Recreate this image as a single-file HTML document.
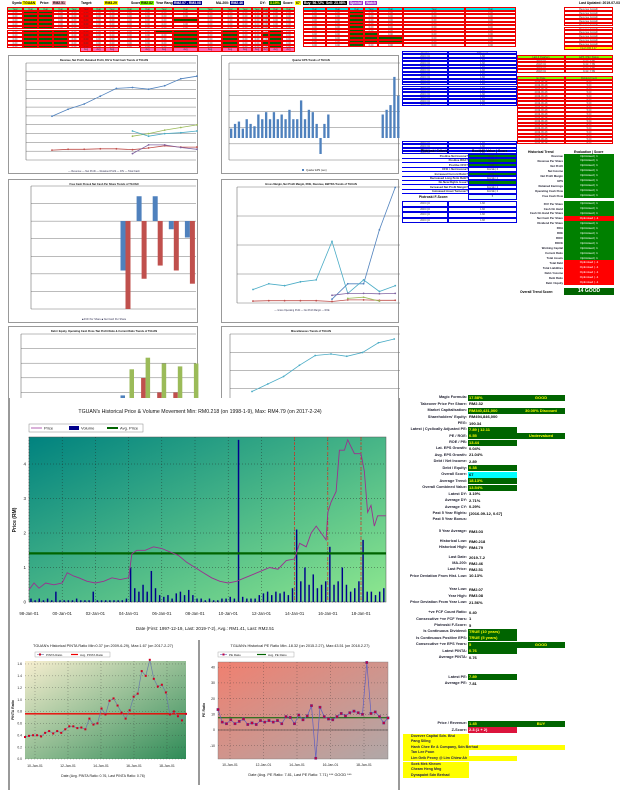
<!DOCTYPE html>
<html><head><meta charset="utf-8">
<style>
*{margin:0;padding:0;box-sizing:border-box}
body{width:627px;height:790px;background:#fff;position:relative;overflow:hidden;font-family:"Liberation Sans",sans-serif;font-size:4px;color:#000}
.a{position:absolute}
.box{position:absolute;border:1px solid #999;background:#fff}
.cell{position:absolute;border:0.6px solid #e00;font-size:2.5px;text-align:center;overflow:hidden;color:#333}
.lbl{position:absolute;text-align:right;font-weight:bold;font-size:3.8px;color:#223;white-space:nowrap}
.val{position:absolute;font-size:4px;white-space:nowrap;color:#000;font-weight:bold}
svg text{font-family:"Liberation Sans",sans-serif}
</style></head>
<body>
<div id="topArea"></div>

<div class="box" style="left:8px;top:55px;width:190px;height:119px"><svg id="c1" width="190" height="119"></svg></div>
<div class="box" style="left:221px;top:55px;width:178px;height:119px"><svg id="c2" width="178" height="119"></svg></div>
<div class="box" style="left:8px;top:179px;width:190px;height:144px"><svg id="c3" width="190" height="144"></svg></div>
<div class="box" style="left:221px;top:179px;width:178px;height:144px"><svg id="c4" width="178" height="144"></svg></div>
<div class="box" style="left:8px;top:326px;width:190px;height:80px"><svg id="c5" width="190" height="80"></svg></div>
<div class="box" style="left:221px;top:326px;width:178px;height:80px"><svg id="c6" width="178" height="80"></svg></div>

<div class="a" style="left:8px;top:398px;width:392px;height:392px;background:#fff;border-left:2px solid #999;border-right:2px solid #999"></div>
<svg id="big" class="a" style="left:0;top:398px" width="400" height="242"></svg>
<svg id="pinta" class="a" style="left:8px;top:640px" width="190" height="150"></svg>
<svg id="pe" class="a" style="left:200px;top:640px" width="198" height="150"></svg>
<div class="a" style="left:198px;top:640px;width:2px;height:145px;background:#999"></div>

<div id="right"></div>

<script>
const priceYears=[1998.0,1998.3,1998.6,1999,1999.5,2000,2000.3,2000.7,2001,2001.5,2002,2002.5,2003,2003.5,2004,2004.2,2004.5,2005,2005.5,2006,2006.5,2007,2007.5,2008,2008.5,2009,2009.5,2010,2010.5,2011,2011.5,2012,2012.5,2013,2013.5,2014,2014.3,2014.7,2015,2015.3,2015.6,2015.9,2016,2016.2,2016.5,2016.7,2017,2017.2,2017.6,2018,2018.2,2018.4,2018.6,2018.8,2019,2019.5];
const priceValues=[0.35,0.55,0.4,0.55,0.5,0.55,0.85,0.75,0.7,0.6,0.55,0.6,0.7,0.65,0.7,1.4,1.5,1.5,1.6,1.55,1.45,1.35,1.15,1.0,0.85,0.7,0.6,0.55,0.6,0.7,0.8,0.9,1.0,0.95,1.2,1.25,1.7,1.6,2.0,2.2,2.0,1.8,2.6,2.9,3.2,4.4,4.4,4.7,4.3,4.3,3.8,2.6,2.8,2.2,2.5,2.5];
const volumeValues=[0.1,0.05,0.1,0.05,0.1,0.05,0.3,0.05,0.05,0.05,0.05,0.1,0.05,0.05,0.05,0.3,0.05,0.05,0.05,0.05,0.05,0.05,0.05,0.1,
1.0,0.4,0.3,0.5,0.3,0.9,0.4,0.2,0.15,0.2,0.1,0.25,
0.3,0.2,0.35,0.2,0.1,0.1,0.05,0.1,0.05,0.05,0.1,0.1,0.15,0.1,
4.7,
0.15,0.1,0.1,0.1,0.2,0.25,0.3,0.2,0.3,0.25,0.3,0.2,0.4,
2.1,
0.6,1.0,0.5,0.8,0.4,0.5,0.6,
1.6,
0.5,0.6,1.0,0.5,0.3,0.4,0.6,
1.8,
0.3,0.3,0.2,0.3,0.4];
const priceTicks=[0,1,2,3,4];
const xTickLabels=["98-Jan-01","00-Jan-01","02-Jan-01","04-Jan-01","06-Jan-01","08-Jan-01","10-Jan-01","12-Jan-01","14-Jan-01","16-Jan-01","18-Jan-01"];
const xTickYears=[1998,2000,2002,2004,2006,2008,2010,2012,2014,2016,2018];
const avgPrice=1.41;
const redLineYears=[2014,2016,2018];

const pintaValues=[0.37,0.39,0.4,0.4,0.38,0.44,0.47,0.43,0.47,0.44,0.5,0.55,0.55,0.52,0.53,0.5,0.68,0.58,0.6,0.85,0.75,0.98,1.02,0.9,0.78,0.68,0.82,1.05,1.1,1.48,1.4,1.67,1.35,1.22,1.25,1.12,0.75,0.8,0.72,0.65,0.76];
const pintaTicks=[0,0.2,0.4,0.6,0.8,1.0,1.2,1.4,1.6];
const avgPinta=0.76;
const peValues=[13,5,4,6.5,4,5.5,7,3.5,4.5,3.5,6,5,6,5,6,4,8.5,8,4,9.5,6.5,9,15.5,-18,14.5,8.5,7,6.5,8.5,10.5,9,11,12,11,10,43,10.5,11.5,8.5,4.5,7.7];
const peTicks=[-10,0,10,20,30,40];
const avgPE=7.81;
const smallXLabels=["10-Jan-01","12-Jan-01","14-Jan-01","16-Jan-01","18-Jan-01"];
const smallXYears=[2010,2012,2014,2016,2018];

const revenueVals=[40,48,54,63,72,73,71,75,83,86];
const netProfitVals=[1,2,2,2.5,2.5,1.5,3.5,6,4.5,4.5];
const equityVals=[null,null,null,null,null,17,20,24,27,30];
const divVals=[null,null,null,null,null,-3,7,7,4,2];
const cashVals=[null,null,null,null,null,23,17,20,21,23];
const epsBars=[2,3,3.5,2,4,3,2.5,5,4,5.5,4,5.5,4,5,4,6,4,4,8,4,6,5.5,3,-3.4,3,5,0,0,0,0,0,0,0,0,0,0,0,0,0,5,6,7,13,9];
const fcfBars=[null,null,null,null,null,-3,1.5,1.5,-0.5,-1];
const ncfBars=[null,null,null,null,null,-7,-3.5,-2.7,-3,-3.8];
const marginA=[null,null,null,null,null,1,5,5,19,30];
const marginB=[0.5,0.6,0.6,0.6,0.6,0.4,0.8,0.8,0.7,0.7];
const marginC=[3.5,5,4.5,5.5,6,16,2.5,6,3,4.5];
const deBlue=[null,null,null,null,null,4,1.5,2,1.5,1.5];
const deRed=[null,null,null,null,null,null,10,5,5,2];
const deGreen=[null,null,null,null,null,13,17,15,14,15];
const miscVals=[10,20,30,45,58,60,57,62,75,80];

const NS="http://www.w3.org/2000/svg";
function mk(p,tag,at){const e=document.createElementNS(NS,tag);for(const k in at)e.setAttribute(k,at[k]);p.appendChild(e);return e;}
function txt(p,x,y,s,size,anchor,fill,bold){const t=mk(p,"text",{x:x,y:y,"font-size":size,"text-anchor":anchor||"start",fill:fill||"#222"});if(bold)t.setAttribute("font-weight","bold");t.textContent=s;return t;}

(function(){
 const s=document.getElementById("big");
 const X0=29,X1=386,Y0=204,Y1=39;
 const xs=y=>X0+(y-1998)*16.6;
 const ys=v=>Y0-v*34.5;
 const d=mk(s,"defs",{});
 const lg=mk(d,"linearGradient",{id:"bg",x1:"0",y1:"0",x2:"1",y2:"1"});
 mk(lg,"stop",{offset:"0","stop-color":"#00827f"});
 mk(lg,"stop",{offset:"1","stop-color":"#8fe88f"});
 txt(s,200,15,"TGUAN's Historical Price & Volume Movement    Min: RM0.218 (on 1998-1-9),    Max: RM4.79 (on 2017-2-24)",5.2,"middle","#111");
 const lgBox=mk(s,"rect",{x:29,y:26,width:114,height:8,fill:"#fff",stroke:"#888","stroke-width":0.5});
 
 mk(s,"line",{x1:31,y1:30,x2:42,y2:30,stroke:"#a040a0","stroke-width":0.8});txt(s,44,31.5,"Price",4);
 mk(s,"rect",{x:69,y:28,width:10,height:4,fill:"#00008b"});txt(s,81,31.5,"Volume",4);
 mk(s,"line",{x1:107,y1:30,x2:118,y2:30,stroke:"#006400","stroke-width":2});txt(s,120,31.5,"Avg. Price",4);
 const pa=mk(s,"rect",{x:X0,y:Y1,width:X1-X0,height:Y0-Y1,fill:"url(#bg)",stroke:"#555","stroke-width":0.5});
 
 xTickYears.forEach((yr,i)=>{const x=xs(yr);
  mk(s,"line",{x1:x,y1:Y1,x2:x,y2:Y0,stroke:"#222","stroke-width":0.4,"stroke-dasharray":"1,2"});
  const t=txt(s,x,217,xTickLabels[i],4.3,"middle","#222");
  
 });
 priceTicks.forEach(v=>{const y=ys(v);
  mk(s,"line",{x1:X0,y1:y,x2:X1,y2:y,stroke:"#222","stroke-width":0.4,"stroke-dasharray":"1,2"});
  txt(s,26,y+1.5,String(v),4.5,"end","#222");
 });
 const yt=txt(s,0,0,"Price (RM)",5,"middle","#111",true);yt.setAttribute("transform","translate(16,122) rotate(-90)");
 
 const n=volumeValues.length,bw=(X1-X0)/n;
 volumeValues.forEach((v,i)=>{const h=Math.min(v*34.5,Y0-Y1);
  const r=mk(s,"rect",{x:X0+i*bw+bw*0.3,y:Y0-h,width:Math.max(0.8,bw*0.35),height:h,fill:"#00008b"});
  
 });
 redLineYears.forEach(yr=>{mk(s,"line",{x1:xs(yr),y1:Y1,x2:xs(yr),y2:Y0,stroke:"#e03020","stroke-width":0.7,"stroke-dasharray":"3,2"});});
 const al=mk(s,"line",{x1:X0,y1:ys(avgPrice),x2:X1,y2:ys(avgPrice),stroke:"#006400","stroke-width":2.2});
 
 const pts=priceYears.map((yr,i)=>xs(yr).toFixed(1)+","+ys(priceValues[i]).toFixed(1)).join(" ");
 const pl=mk(s,"polyline",{points:pts,fill:"none",stroke:"#9a3090","stroke-width":0.9});
 
 txt(s,205,232,"Date (First: 1997-12-19, Last: 2019-7-2), Avg.: RM1.41, Last: RM2.51",4.5,"middle","#111");
})();

(function(){
 const s=document.getElementById("pinta");
 const X0=17,X1=178,Y0=119,Y1=21;
 const xs=y=>27+(y-2010)*16.5;
 const ys=v=>Y0-v*59.4;
 const d=mk(s,"defs",{});
 const lg=mk(d,"linearGradient",{id:"pg",x1:"0",y1:"0",x2:"1",y2:"1"});
 mk(lg,"stop",{offset:"0","stop-color":"#f8efd0"});mk(lg,"stop",{offset:"1","stop-color":"#2e8b57"});
 txt(s,95,7,"TGUAN's Historical PINTA Ratio  Min:0.37 (on 2009-6-29),  Max:1.67 (on 2017-2-27)",3.8,"middle","#111");
 mk(s,"rect",{x:27,y:12,width:75,height:5,fill:"#fff",stroke:"#999","stroke-width":0.4});
 mk(s,"line",{x1:29,y1:14.5,x2:36,y2:14.5,stroke:"#6070a0","stroke-width":0.6});mk(s,"rect",{x:31,y:13.5,width:2,height:2,fill:"#d00020"});
 txt(s,38,16,"PINTA Ratio",3);
 mk(s,"line",{x1:63,y1:14.5,x2:70,y2:14.5,stroke:"#e00","stroke-width":1.2});txt(s,72,16,"Avg. PINTA Ratio",3);
 mk(s,"rect",{x:X0,y:Y1,width:X1-X0,height:Y0-Y1,fill:"url(#pg)"});
 pintaTicks.forEach(v=>{const y=ys(v);mk(s,"line",{x1:X0,y1:y,x2:X1,y2:y,stroke:"#333","stroke-width":0.3,"stroke-dasharray":"1,2"});txt(s,14,y+1.2,v.toFixed(1),3.3,"end","#222");});
 smallXYears.forEach((yr,i)=>{const x=xs(yr);mk(s,"line",{x1:x,y1:Y1,x2:x,y2:Y0,stroke:"#333","stroke-width":0.3,"stroke-dasharray":"1,2"});txt(s,x,127,smallXLabels[i],3.5,"middle","#222");});
 const t=txt(s,0,0,"PINTA Ratio",3.5,"middle","#111",true);t.setAttribute("transform","translate(6,70) rotate(-90)");
 const n=pintaValues.length;const st=(X1-X0)/(n-1);
 mk(s,"line",{x1:X0,y1:ys(avgPinta),x2:X1,y2:ys(avgPinta),stroke:"#e00","stroke-width":1.4});
 mk(s,"polyline",{points:pintaValues.map((v,i)=>(X0+i*st).toFixed(1)+","+ys(v).toFixed(1)).join(" "),fill:"none",stroke:"#6a7ca8","stroke-width":0.7});
 pintaValues.forEach((v,i)=>{const r=mk(s,"rect",{x:X0+i*st-1,y:ys(v)-1,width:2,height:2,fill:"#d00020"});});
 txt(s,95,137,"Date (Avg. PINTA Ratio: 0.76,  Last PINTA Ratio: 0.76)",3.5,"middle","#111");
})();

(function(){
 const s=document.getElementById("pe");
 const X0=18,X1=188,Y0=119,Y1=22;
 const ys=v=>90-v*1.57;
 const xs=y=>30+(y-2010)*16.75;
 const d=mk(s,"defs",{});
 const lg=mk(d,"linearGradient",{id:"eg",x1:"0",y1:"0",x2:"1",y2:"1"});
 mk(lg,"stop",{offset:"0","stop-color":"#f08070"});mk(lg,"stop",{offset:"1","stop-color":"#b0a8a8"});
 txt(s,100,7,"TGUAN's Historical PE Ratio   Min:-18.32 (on 2015.2.27),    Max:43.51 (on 2018.2.27)",3.8,"middle","#111");
 mk(s,"rect",{x:18,y:12,width:76,height:5,fill:"#fff",stroke:"#999","stroke-width":0.4});
 mk(s,"line",{x1:20,y1:14.5,x2:27,y2:14.5,stroke:"#6060c0","stroke-width":0.6});mk(s,"rect",{x:22.5,y:13.5,width:2,height:2,fill:"#c00040"});
 txt(s,29,16,"PE Ratio",3);
 mk(s,"line",{x1:57,y1:14.5,x2:66,y2:14.5,stroke:"#006400","stroke-width":1.2});txt(s,68,16,"Avg. PE Ratio",3);
 mk(s,"rect",{x:X0,y:Y1,width:X1-X0,height:Y0-Y1,fill:"url(#eg)",stroke:"#777","stroke-width":0.4});
 peTicks.forEach(v=>{const y=ys(v);mk(s,"line",{x1:X0,y1:y,x2:X1,y2:y,stroke:"#333","stroke-width":0.3,"stroke-dasharray":"1,2"});txt(s,15,y+1.2,String(v),3.5,"end","#222");});
 smallXYears.forEach((yr,i)=>{const x=xs(yr);mk(s,"line",{x1:x,y1:Y1,x2:x,y2:Y0,stroke:"#333","stroke-width":0.3,"stroke-dasharray":"1,2"});txt(s,x,126,smallXLabels[i],3.5,"middle","#222");});
 mk(s,"line",{x1:X0,y1:ys(0),x2:X1,y2:ys(0),stroke:"#333","stroke-width":0.5});
 const t=txt(s,0,0,"PE Ratio",3.5,"middle","#111",true);t.setAttribute("transform","translate(5,70) rotate(-90)");
 mk(s,"line",{x1:X0,y1:ys(avgPE),x2:X1,y2:ys(avgPE),stroke:"#006400","stroke-width":1});
 const n=peValues.length;const st=(X1-X0)/(n-1);
 mk(s,"polyline",{points:peValues.map((v,i)=>(X0+i*st).toFixed(1)+","+Math.min(Y0,Math.max(Y1,ys(v))).toFixed(1)).join(" "),fill:"none",stroke:"#6060c0","stroke-width":0.7});
 peValues.forEach((v,i)=>{const r=mk(s,"rect",{x:X0+i*st-1.2,y:Math.min(Y0,Math.max(Y1,ys(v)))-1.2,width:2.4,height:2.4,fill:"#c00040",stroke:"#4040a0","stroke-width":0.3});});
 txt(s,100,136,"Date (Avg. PE Ratio: 7.81,  Last PE Ratio: 7.71) *** GOOD ***",3.8,"middle","#111");
})();

function smallFrame(s,w,h,title,px0,px1,py0,py1,nGrid){
 txt(s,w/2,5,title,2.6,"middle","#111",true);
 for(let i=0;i<=nGrid;i++){const y=py1+(py0-py1)*i/nGrid;mk(s,"line",{x1:px0,y1:y,x2:px1,y2:y,stroke:"#777","stroke-width":0.5});}
 mk(s,"line",{x1:px0,y1:py1,x2:px0,y2:py0,stroke:"#555","stroke-width":0.5});
}
function drawLine(s,vals,xs,ys,color){const p=[];vals.forEach((v,i)=>{if(v!==null)p.push(xs(i).toFixed(1)+","+ys(v).toFixed(1));});
 mk(s,"polyline",{points:p.join(" "),fill:"none",stroke:color,"stroke-width":0.8});
 vals.forEach((v,i)=>{if(v!==null){mk(s,"circle",{cx:xs(i),cy:ys(v),r:0.9,fill:color});}});}
(function(){const s=document.getElementById("c1");
 smallFrame(s,190,119,"Revenue, Net Profit, Retained Profit, DIV & Total Cash Trends of TGUAN",17,187,104,7,11);
 const xs=i=>43+i*16.1, ys=v=>95-v*0.87;
 drawLine(s,revenueVals,xs,ys,"#4f81bd");
 drawLine(s,netProfitVals,xs,ys,"#c0504d");
 drawLine(s,equityVals,xs,ys,"#9bbb59");
 drawLine(s,divVals,xs,ys,"#8064a2");
 drawLine(s,cashVals,xs,ys,"#4bacc6");
 txt(s,95,116,"— Revenue   — Net Profit   — Retained Profit   — DIV   — Total Cash",2.5,"middle","#335");
})();
(function(){const s=document.getElementById("c2");
 smallFrame(s,178,119,"Quarter EPS Trends of TGUAN",7,178,104,7,6);
 const bw=171/epsBars.length;const ys=v=>82-v*4.7;
 epsBars.forEach((v,i)=>{if(v!==0){const y=Math.min(ys(v),82),h=Math.abs(v*4.7);const r=mk(s,"rect",{x:8+i*bw,y:y,width:bw*0.6,height:h,fill:"#4f81bd"});}});
 mk(s,"rect",{x:80,y:113,width:2,height:2,fill:"#4f81bd"});txt(s,84,115,"Quarter EPS (sen)",2.5);
})();
(function(){const s=document.getElementById("c3");
 smallFrame(s,190,144,"Free Cash Flow & Net Cash Per Share Trends of TGUAN",22,187,129,6,7);
 const xs=i=>30+i*16.1,ys=v=>41-v*16.5;
 fcfBars.forEach((v,i)=>{if(v!==null){mk(s,"rect",{x:xs(i)+1,y:Math.min(ys(v),41),width:5,height:Math.abs(v*16.5),fill:"#4f81bd"});}});
 ncfBars.forEach((v,i)=>{if(v!==null){mk(s,"rect",{x:xs(i)+6,y:Math.min(ys(v),41),width:5,height:Math.min(88,Math.abs(v*16.5)),fill:"#c0504d"});}});
 txt(s,95,140,"■ FCF Per Share   ■ Net Cash Per Share",2.5,"middle","#335");
})();
(function(){const s=document.getElementById("c4");
 smallFrame(s,178,144,"Gross Margin, Net Profit Margin, ROE, Revenue, EBITDA Trends of TGUAN",15,178,123,7,4);
 const xs=i=>31+i*15.8,ys=v=>123-v*3.85;
 drawLine(s,marginA,xs,ys,"#4f81bd");drawLine(s,marginB,xs,ys,"#c0504d");drawLine(s,marginC,xs,ys,"#4bacc6");
 drawLine(s,[null,null,null,null,null,null,1.2,1.5,0.5,null],xs,ys,"#9bbb59");drawLine(s,[null,null,null,null,null,2,2.5,2.5,2.4,2.5],xs,ys,"#8064a2");
 txt(s,80,131,"— Gross Operating Profit   — Net Profit Margin   — ROE",2.3,"middle","#335");
})();
(function(){const s=document.getElementById("c5");
 smallFrame(s,190,80,"Debt / Equity, Operating Cash Flow / Net Profit Ratio & Current Ratio Trends of TGUAN",12,187,80,7,5);
 const xs=i=>30+i*16.1,base=80,k=2.9;
 deBlue.forEach((v,i)=>{if(v!==null)mk(s,"rect",{x:xs(i)+1,y:base-v*k,width:4.5,height:v*k,fill:"#4f81bd"});});
 deRed.forEach((v,i)=>{if(v!==null)mk(s,"rect",{x:xs(i)+5.5,y:base-v*k,width:4.5,height:v*k,fill:"#c0504d"});});
 deGreen.forEach((v,i)=>{if(v!==null)mk(s,"rect",{x:xs(i)+10,y:base-v*k,width:4.5,height:v*k,fill:"#9bbb59"});});
})();
(function(){const s=document.getElementById("c6");
 smallFrame(s,178,80,"Miscellaneous Trends of TGUAN",8,178,80,7,4);
 drawLine(s,miscVals,i=>30+i*15.8,v=>72-v*0.75,"#4bacc6");
})();

function cell(x,y,w,h,bg,txtc,border){const d=document.createElement("div");d.className="cell";d.style.cssText=`left:${x}px;top:${y}px;width:${w}px;height:${h}px;background:${bg};border-color:${border||"#e00"}`;d.textContent=txtc||"";document.body.appendChild(d);return d;}
function lab(x,y,t,bg,fg){const d=document.createElement("div");d.className="a";d.style.cssText=`left:${x}px;top:${y}px;font-size:3.4px;font-weight:bold;background:${bg||"transparent"};color:${fg||"#000"};padding:0 1px`;d.textContent=t;document.body.appendChild(d);return d;}
lab(11,1,"Symbol:");lab(22,0.5,"TGUAN","#ff0");lab(39,1,"Price:");lab(52,0.5,"RM2.51","#f6b0c0");
lab(80,1,"Target:");lab(104,0.5,"RM3.29","#ff0");lab(130,1,"Score:");lab(140,0.5,"RM2.82","#7fff00");lab(155,1,"Year Range:");lab(173,0.5,"RM2.07 - RM3.08","#00008b","#fff");
lab(215,1,"MA-200:");lab(230,0.5,"RM2.46","#00008b","#fff");lab(259,1,"DY:");lab(269,0.5,"3.19%","#006400","#ff0");lab(282,1,"Score:");lab(295,0.5,"67","#ff0");
lab(303,0.5,"Buy: 56.72%","#000","#fff");lab(325,0.5,"Sell: 23.98%","#000","#fff");lab(349,0.5,"Special","#9932cc","#fff");lab(365,0.5,"Watch","#9932cc","#fff");
lab(578,1,"Last Updated: 2019-07-03");
const colsL=[7,23,38,53,68,80,92,105,119,140,155,173,198,222,238,252,262,269,282,295];
const rowY=[7,10.5,14.3,18.1,21.9,25.7,29.5,33.3,37.1,40.9,44.7,48.5];
for(let c=0;c<colsL.length-1;c++){
 for(let r=0;r<rowY.length-1;r++){
  let bg="#fff";
  if(r===0)bg=(c===5)?"#f00":"#66e08a";
  else{
   if(c===1||c===2)bg="#006400";
   if(c===3&&r>=6)bg="#006400";
   if(c===5)bg="#f00";
   if(c===10&&r===6)bg="#006400";
   if(c===11&&(r===3||r>=6))bg="#006400";
   if(c===13&&r>=6)bg="#006400";
   if(c===17&&r>=6)bg="#006400";
   if(c===16&&(r===7||r===9))bg="#006400";
  }
  cell(colsL[c],rowY[r],colsL[c+1]-colsL[c],rowY[r+1]-rowY[r],bg,r>0?"0.00":"Year");
 }
}
[[80,119],[140,295]].forEach(([a,b])=>{for(let i=0;i<colsL.length-1;i++){if(colsL[i]>=a&&colsL[i+1]<=b)cell(colsL[i],47,colsL[i+1]-colsL[i],5,"#ff69b4","Avg");}});
const colsM=[303,326,349,364,378,403,465,516];
for(let c=0;c<colsM.length-1;c++)for(let r=0;r<11;r++){
 let bg=r===0?"#00e0e0":"#fff";if(c===2&&r>0)bg="#006400";if(c===3&&(r===7||r===8||r===9))bg="#006400";if(c===4&&(r===8||r===9))bg="#006400";
 cell(colsM[c],7+r*3.64,colsM[c+1]-colsM[c],3.64,bg,r===0?"Year":"0.00");
}
for(let r=0;r<11;r++)cell(564,7+r*3.9,49,3.9,r===10?"#ff0":"#fff",r===10?"Fluch RM 3.47":"Revenue Growth");

for(let r=0;r<30;r++){
 const y=51+r*3.45;
 if(r>=16&&r<=25)continue;
 cell(402,y,46,3.45,r===0?"#e6e6fa":"#fff",r===0?"Quarter":"2016 Q4","#0000e0");
 cell(448,y,69,3.45,r===0?"#e6e6fa":"#fff",r===0?"EPS (sen)":"1.82","#0000e0");
}
const pio=["Positive Net Income?","Positive ROA?","Positive CFO?","CFO > Net Income?","Increased Current Ratio?","Decreased Long-Term Debt?","No New Rights Issue?","Increased Net Profit Margin?","Increased Asset Turnover?"];
const pioT=[1,1,1,0,1,0,1,0,0];
lab(420,149,"Piotroski Criteria");lab(471,149,"Boolean Value | Score");
pio.forEach((p,i)=>{const y=154+i*4.4;
 const l=document.createElement("div");l.className="lbl";l.style.cssText=`left:402px;top:${y}px;width:66px;font-size:2.8px;border-bottom:0.6px solid #00e`;l.textContent=p;document.body.appendChild(l);
 cell(468,y,49,4.4,(i<3||i===4||i===6)?"#008000":"#fff",(pioT[i]?"TRUE | 1":"FALSE | 0"),"#0000e0");
});
lab(418,195,"Piotroski F-Score:");cell(468,194,49,6,"#e6ffff","5","#0000e0");
for(let r=0;r<4;r++){cell(402,201+r*5.6,46,5.6,"#fff","2016 Q4","#0000e0");cell(448,201+r*5.6,69,5.6,"#fff","1.82","#0000e0");}
for(let r=0;r<5;r++){cell(517,55+r*3.6,48,3.6,r===0?"#7fff00":"#fff",r===0?"Last 4 Quarters":"2018 Q4","#e00");cell(565,55+r*3.6,48,3.6,r===0?"#7fff00":"#fff",r===0?"EPS | PE | Status":"9.41 | 7.89","#e00");}
for(let r=0;r<19;r++){cell(517,76+r*3.6,48,3.6,r===0?"#7fff00":"#fff",r===0?"Ex Date":"2019-06-28","#e00");cell(565,76+r*3.6,48,3.6,r===0?"#7fff00":"#fff",r===0?"Dividend (sen)":"5.00","#e00");}
const trendL=["Revenue","Revenue Per Share","Net Profit","Net Income","Net Profit Margin","EPS","Retained Earnings","Operating Cash Flow","Free Cash Flow","","FCF Per Share","Cash On Hand","Cash On Hand Per Share","Net Cash Per Share","Dividend Per Share","ROA","ROE","ROIC","ROCE","Working Capital","Current Ratio","Total Assets","Total Debt","Total Liabilities","Debt / Income","Debt Ratio","Debt / Equity"];
lab(527,150,"Historical Trend");lab(573,150,"Evaluation | Score");
let ty=154;
trendL.forEach((t,i)=>{
 if(t===""){ty+=3;return;}
 const l=document.createElement("div");l.className="lbl";l.style.cssText=`left:515px;top:${ty}px;width:48px;font-size:2.8px`;l.textContent=t;document.body.appendChild(l);
 const bad=(t==="Net Cash Per Share")||i>=22;
 const c=document.createElement("div");c.className="a";c.style.cssText=`left:564px;top:${ty-0.5}px;width:50px;height:5.1px;background:${bad?"#f00":"#008000"};color:#fff;font-size:3px;text-align:center`;c.textContent=bad?"Optimised | -1":"Optimised | 1";document.body.appendChild(c);
 ty+=4.95;
});
lab(519,290,"Overall Trend Score:");
const ots=document.createElement("div");ots.className="a";ots.style.cssText="left:564px;top:288px;width:50px;height:7px;background:#006400;color:#fff;font-size:5px;font-weight:bold;text-align:center";ots.textContent="14  GOOD";


document.body.appendChild(ots);

const metrics=[
 [395,"Magic Formula:","17.58%","g","GOOD"],
 [401.5,"Takeover Price Per Share:","RM2.32","",""],
 [408,"Market Capitalisation:","RM340,431,000","g","30.00% Discount"],
 [414.5,"Shareholders' Equity:","RM494,846,000","",""],
 [421,"PEG:","190.34","",""],
 [427,"Latest | Cyclically Adjusted PE:","7.89  |  12.11","g",""],
 [433.5,"PE / ROE:","0.55","g","Undervalued"],
 [440,"ROE / PB:","13.44","g",""],
 [446,"Lat. EPS Growth:","0.04%","",""],
 [452.5,"Avg. EPS Growth:","21.04%","",""],
 [459,"Debt / Net Income:","2.89","",""],
 [465.5,"Debt / Equity:","0.38","g",""],
 [472,"Overall Score:","67","c",""],
 [478.5,"Average Trend:","18.13%","g",""],
 [485,"Overall Combined Value:","13.54%","g",""],
 [491.5,"Latest DY:","3.19%","",""],
 [498,"Average DY:","2.71%","",""],
 [504.5,"Average CY:","0.29%","",""],
 [511,"Past 5 Year Rights:","[2016-09-12, 0.67]","",""],
 [516.5,"Past 5 Year Bonus:","","",""],
 [529,"5 Year Average:","RM3.03","",""],
 [539,"Historical Low:","RM0.218","",""],
 [545,"Historical High:","RM4.79","",""],
 [555,"Last Date:","2019-7-2","",""],
 [561,"MA-200:","RM2.46","",""],
 [567,"Last Price:","RM2.51","",""],
 [573.5,"Price Deviation From Hist. Low:","10.13%","",""],
 [587,"Year Low:","RM2.07","",""],
 [593.5,"Year High:","RM3.08","",""],
 [600,"Price Deviation From Year Low:","21.56%","",""],
 [610,"+ve FCF Count Ratio:","0.40","",""],
 [616.5,"Consecutive +ve FCF Years:","1","",""],
 [623,"Piotroski F-Score:","5","",""],
 [629,"Is Continuous Dividend:","TRUE (10 years)","g",""],
 [635.5,"Is Continuous Positive EPS:","TRUE (5 years)","g",""],
 [642,"Consecutive +ve EPS Years:","5","g","GOOD"],
 [648.5,"Latest PINTA:","0.76","g",""],
 [655,"Average PINTA:","0.76","",""],
 [674.5,"Latest PE:","7.89","g",""],
 [681,"Average PE:","7.81","",""],
 [721,"Price / Revenue:","1.45","g","BUY"],
 [727.5,"Z-Score:","2.3 (1 + 2)","r",""]
];
metrics.forEach(m=>{
 const l=document.createElement("div");l.className="lbl";l.style.cssText=`left:400px;top:${m[0]}px;width:67px`;l.textContent=m[1];document.body.appendChild(l);
 const v=document.createElement("div");v.className="val";
 let bg=m[3]==="g"?"#006400":m[3]==="c"?"#00ffff":m[3]==="r"?"#dc143c":"transparent";
 let fg=m[3]==="g"?"#ff0":m[3]==="r"?"#fff":"#000";
 v.style.cssText=`left:468px;top:${m[0]-0.5}px;width:49px;height:6.3px;background:${bg};color:${fg};padding-left:1px`;
 v.textContent=m[2];document.body.appendChild(v);
 if(m[4]){const e=document.createElement("div");e.className="val";e.style.cssText=`left:517px;top:${m[0]-0.5}px;width:48px;height:6.3px;background:#006400;color:#ff0;text-align:center`;e.textContent=m[4];document.body.appendChild(e);}
});
const holders=[["Dovever Capital Sdn. Bhd",""],["Pang Siling",""],["Hanh Chee Ee & Company, Sdn Berhad","w"],["Tan Lee Poon",""],["Lim Geik Peony @ Lim Chiew Ah","m"],["Soek Mek Kheom",""],["Cheam Heng Mng",""],["Dynapaint Sdn Berhad",""]];
holders.forEach((h,i)=>{const y=733.5+i*5.6;
 const d=document.createElement("div");d.className="a";
 const w=h[1]==="w"?162:h[1]==="m"?114:66;
 d.style.cssText=`left:403px;top:${y}px;width:${w}px;height:5.6px;background:#ff0;font-size:3.6px;font-weight:bold;color:#224;padding-left:8px;white-space:nowrap`;
 d.textContent=h[0];document.body.appendChild(d);
});
</script>
</body></html>
